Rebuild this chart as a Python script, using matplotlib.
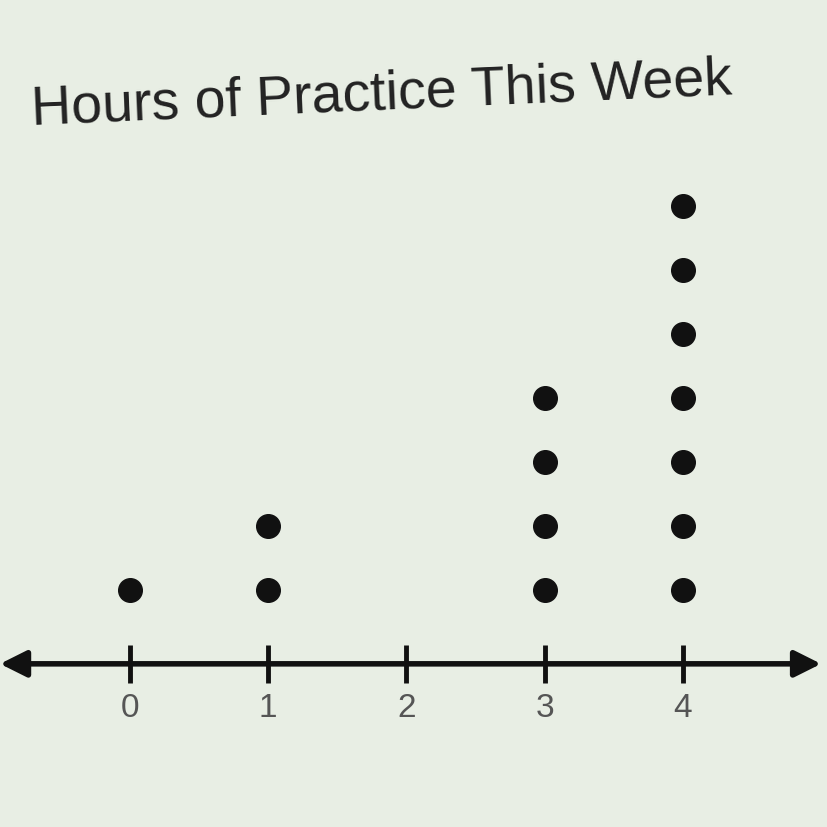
import matplotlib
matplotlib.use("Agg")
import matplotlib.pyplot as plt
from matplotlib.patches import FancyArrowPatch

title = "Hours of Practice This Week"
hours = [0, 1, 2, 3, 4]
counts = [1, 2, 0, 4, 7]
tick_labels = ["0", "1", "2", "3", "4"]

fig = plt.figure(figsize=(8.28, 8.28), dpi=100)
bg = "#e8eee4"
fig.patch.set_facecolor(bg)
ax = fig.add_axes([0, 0, 1, 1])
ax.set_facecolor(bg)
ax.set_xlim(-0.94, 5.05)
ax.set_ylim(-2.55, 10.39)
ax.axis("off")

# number line with arrows at both ends
arr = FancyArrowPatch((-0.94, 0), (5.0, 0), arrowstyle="<|-|>", mutation_scale=40,
                      color="#111111", lw=4, shrinkA=0, shrinkB=0)
ax.add_patch(arr)

for h, lab in zip(hours, tick_labels):
    ax.plot([h, h], [-0.3, 0.3], color="#111111", lw=3.5, solid_capstyle="butt")
    ax.text(h, -0.68, lab, ha="center", va="center", fontsize=24,
            color="#555555", family="Liberation Sans")

for h, c in zip(hours, counts):
    for k in range(c):
        ax.plot(h, 1.15 + k, "o", color="#111111", markersize=17)

fig.text(0.037, 0.885, title, ha="left", va="center", fontsize=40,
         color="#222222", family="Liberation Sans", rotation=2.5)

fig.savefig("out.png", dpi=100, facecolor=bg)
